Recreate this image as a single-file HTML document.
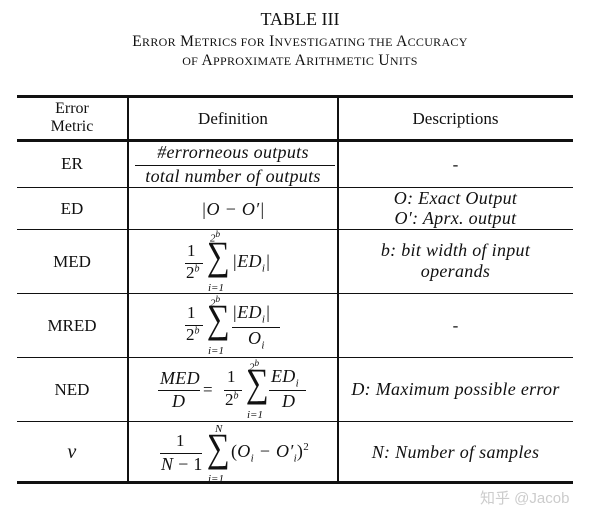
<!DOCTYPE html>
<html><head><style>
body{margin:0;width:600px;height:511px;background:#fff;position:relative;font-family:"Liberation Serif",serif;color:#111;overflow:hidden}
.a{position:absolute;white-space:nowrap}
.c{text-align:center}
.h{position:absolute;background:#111;left:17px;width:556px}
.v{position:absolute;background:#111;width:2px;top:96px;height:387px}
.m{font-style:italic;font-size:18px;letter-spacing:0.3px}
.r{font-size:17px}
.sm{font-size:11px;font-style:italic}
.fl{position:absolute;border-top:1.3px solid #111}
.sig{font-size:40px;line-height:40px;font-style:normal;transform:scaleX(0.8);display:inline-block}
</style></head><body>
<div class="a c" style="left:0;width:600px;top:9px;font-size:18px">TABLE III</div>
<div class="a c" style="left:0;width:600px;top:33px;font-size:15.5px;letter-spacing:0.3px">E<span style="font-size:12px">RROR</span> M<span style="font-size:12px">ETRICS FOR</span> I<span style="font-size:12px">NVESTIGATING THE</span> A<span style="font-size:12px">CCURACY</span></div>
<div class="a c" style="left:0;width:600px;top:52px;font-size:15.5px;letter-spacing:0.3px"><span style="font-size:12px">OF</span> A<span style="font-size:12px">PPROXIMATE</span> A<span style="font-size:12px">RITHMETIC</span> U<span style="font-size:12px">NITS</span></div>

<div class="h" style="top:95px;height:3px"></div>
<div class="h" style="top:139px;height:3px"></div>
<div class="h" style="top:187px;height:1px"></div>
<div class="h" style="top:229px;height:1px"></div>
<div class="h" style="top:293px;height:1px"></div>
<div class="h" style="top:357px;height:1px"></div>
<div class="h" style="top:421px;height:1px"></div>
<div class="h" style="top:481px;height:3px"></div>
<div class="v" style="left:127px"></div>
<div class="v" style="left:337px"></div>

<div class="a c r" style="left:17px;width:110px;top:100px;font-size:16px;line-height:18px">Error<br>Metric</div>
<div class="a c r" style="left:129px;width:208px;top:109px">Definition</div>
<div class="a c r" style="left:339px;width:233px;top:109px">Descriptions</div>

<div class="a c r" style="left:17px;width:110px;top:154px">ER</div>
<div class="a c m" style="left:129px;width:208px;top:142px">#errorneous outputs</div>
<div class="fl" style="left:135px;width:200px;top:165px"></div>
<div class="a c m" style="left:129px;width:208px;top:166px">total number of outputs</div>
<div class="a c r" style="left:339px;width:233px;top:155px">-</div>

<div class="a c r" style="left:17px;width:110px;top:199px">ED</div>
<div class="a c m" style="left:129px;width:208px;top:199px">|<i>O</i> − <i>O</i>′|</div>
<div class="a c m" style="left:339px;width:233px;top:188px">O: Exact Output</div>
<div class="a c m" style="left:339px;width:233px;top:208px">O′: Aprx. output</div>

<div class="a c r" style="left:17px;width:110px;top:252px">MED</div>
<div class="a r" style="left:187px;top:241px">1</div>
<div class="fl" style="left:185px;width:18px;top:263px"></div>
<div class="a r" style="left:186px;top:263px">2<sup style="font-size:10px;font-style:italic">b</sup></div>
<div class="a sm" style="left:210px;top:229px">2<sup>b</sup></div>
<div class="a sig" style="left:204px;top:236px">∑</div>
<div class="a sm" style="left:208px;top:282px">i=1</div>
<div class="a m" style="left:232px;top:251px">|ED<sub style="font-size:11px">i</sub>|</div>
<div class="a c m" style="left:339px;width:233px;top:240px">b: bit width of input</div>
<div class="a c m" style="left:339px;width:233px;top:261px">operands</div>

<div class="a c r" style="left:17px;width:110px;top:316px">MRED</div>
<div class="a r" style="left:187px;top:303px">1</div>
<div class="fl" style="left:185px;width:18px;top:325px"></div>
<div class="a r" style="left:186px;top:325px">2<sup style="font-size:10px;font-style:italic">b</sup></div>
<div class="a sm" style="left:210px;top:294px">2<sup>b</sup></div>
<div class="a sig" style="left:204px;top:299px">∑</div>
<div class="a sm" style="left:208px;top:345px">i=1</div>
<div class="a m" style="left:232px;top:302px">|ED<sub style="font-size:11px">i</sub>|</div>
<div class="fl" style="left:232px;width:48px;top:327px"></div>
<div class="a m" style="left:248px;top:328px">O<sub style="font-size:11px">i</sub></div>
<div class="a c r" style="left:339px;width:233px;top:316px">-</div>

<div class="a c r" style="left:17px;width:110px;top:380px">NED</div>
<div class="a m" style="left:160px;top:368px">MED</div>
<div class="fl" style="left:158px;width:42px;top:390px"></div>
<div class="a m" style="left:172px;top:391px">D</div>
<div class="a r" style="left:203px;top:380px">=</div>
<div class="a r" style="left:227px;top:367px">1</div>
<div class="fl" style="left:224px;width:18px;top:390px"></div>
<div class="a r" style="left:225px;top:390px">2<sup style="font-size:10px;font-style:italic">b</sup></div>
<div class="a sm" style="left:249px;top:358px">2<sup>b</sup></div>
<div class="a sig" style="left:243px;top:363px">∑</div>
<div class="a sm" style="left:247px;top:409px">i=1</div>
<div class="a m" style="left:271px;top:366px">ED<sub style="font-size:11px">i</sub></div>
<div class="fl" style="left:269px;width:37px;top:390px"></div>
<div class="a m" style="left:282px;top:391px">D</div>
<div class="a c m" style="left:339px;width:233px;top:379px">D: Maximum possible error</div>

<div class="a c m" style="left:17px;width:110px;top:441px;font-size:20px">v</div>
<div class="a r" style="left:176px;top:431px">1</div>
<div class="fl" style="left:160px;width:42px;top:453px"></div>
<div class="a m" style="left:161px;top:454px">N <span style="font-style:normal">− 1</span></div>
<div class="a sm" style="left:215px;top:423px">N</div>
<div class="a sig" style="left:204px;top:428px">∑</div>
<div class="a sm" style="left:208px;top:473px">i=1</div>
<div class="a m" style="left:231px;top:441px"><span style="font-style:normal">(</span>O<sub style="font-size:11px">i</sub> − O′<sub style="font-size:11px">i</sub><span style="font-style:normal">)</span><sup style="font-size:11px;font-style:normal">2</sup></div>
<div class="a c m" style="left:339px;width:233px;top:442px">N: Number of samples</div>

<div class="a" style="left:480px;top:487px;font-family:'Liberation Sans','Noto Sans CJK SC',sans-serif;font-size:15px;color:#ccc">知乎 @Jacob</div>
</body></html>
